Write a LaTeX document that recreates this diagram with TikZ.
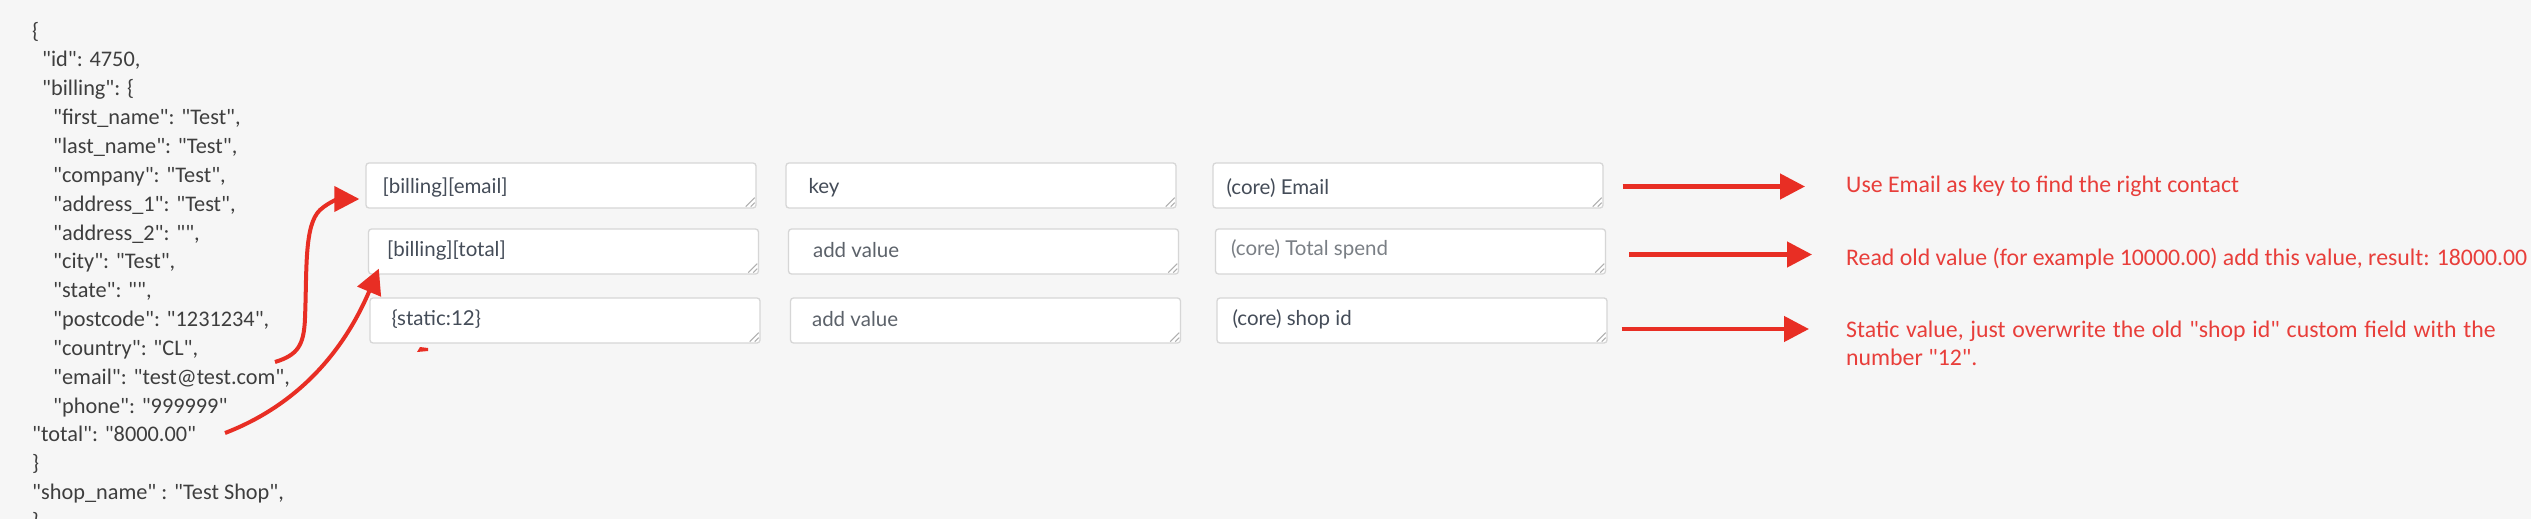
\documentclass[tikz,border=0pt]{standalone}
\usepackage{fontspec}
\setmainfont{Carlito}[Ligatures=TeXOff]
\newfontfamily\fieldfont{Lato}[Ligatures=TeXOff]
\usetikzlibrary{arrows.meta,positioning}

\definecolor{paper}{RGB}{246,246,246}
\definecolor{jsonink}{RGB}{62,62,62}
\definecolor{frame}{RGB}{214,214,214}
\definecolor{fieldink}{RGB}{68,76,88}
\definecolor{valueink}{RGB}{92,98,106}
\definecolor{hintink}{RGB}{122,127,133}
\definecolor{gripgray}{RGB}{175,175,175}
\definecolor{arrowred}{RGB}{232,46,36}
\definecolor{notered}{RGB}{232,62,58}

\tikzset{
  json/.style={anchor=base west, inner sep=0pt, text=jsonink, font=\fontsize{22.3}{28}\selectfont},
  field/.style={draw=frame, fill=white, rounded corners=3pt, line width=1.3pt, minimum width=390pt, minimum height=45pt, inner sep=0pt},
  fieldtext/.style={anchor=base west, inner sep=0pt, text=fieldink, font=\fieldfont\fontsize{20.5}{25}\selectfont},
  note/.style={anchor=base west, inner sep=0pt, text=notered, font=\fontsize{23.8}{28}\selectfont},
  redarrow/.style={draw=arrowred, line width=4.5pt, -{Triangle[length=25pt,width=25pt]}},
  gripline/.style={draw=gripgray, line width=1pt},
}

% resize handle of a text field
\newcommand\gripmark[1]{%
  \draw[gripline] ([shift={(-11,-2)}]#1.south east) -- ([shift={(-2,-11)}]#1.south east);
  \draw[gripline] ([shift={(-6,-2)}]#1.south east) -- ([shift={(-2,-6)}]#1.south east);
}

\begin{document}
\begin{tikzpicture}[x=1pt, y=-1pt]
 \fill[paper] (0,0) rectangle (2531,519);
 \useasboundingbox (0,0) rectangle (2531,519);

 % the order data
 \node[json] (jopen) at (32,38) {\{};
 \node[json] (jid) at (42,66.9) {"id": 4750,};
 \node[json] (jbilling) at (42,95.7) {"billing": \{};
 \node[json] (jfirst) at (53,124.6) {"first\_name": "Test",};
 \node[json] (jlast) at (53,153.4) {"last\_name": "Test",};
 \node[json] (jcompany) at (53,182.3) {"company": "Test",};
 \node[json] (jaddrone) at (53,211.1) {"address\_1": "Test",};
 \node[json] (jaddrtwo) at (53,240) {"address\_2": "",};
 \node[json] (jcity) at (53,268.8) {"city": "Test",};
 \node[json] (jstate) at (53,297.7) {"state": "",};
 \node[json] (jpost) at (53,326.5) {"postcode": "1231234",};
 \node[json] (jcountry) at (53,355.4) {"country": "CL",};
 \node[json] (jemail) at (53,384.2) {"email": "test@test.com",};
 \node[json] (jphone) at (53,413.1) {"phone": "999999"};
 \node[json] (jtotal) at (32,441.9) {"total": "8000.00"};
 \node[json] (jclose) at (32,470.8) {\}};
 \node[json] (jshop) at (32,499.6) {"shop\_name" : "Test Shop",};
 \node[json] (jend) at (32,528.5) {\}};

 % mapping fields
 \node[field] (b11) at (561,185.5) {};
 \node[field] (b12) at (981,185.5) {};
 \node[field] (b13) at (1408,185.5) {};
 \node[field] (b21) at (563.5,251.5) {};
 \node[field] (b22) at (983.5,251.5) {};
 \node[field] (b23) at (1410.5,251.5) {};
 \node[field] (b31) at (565,320.5) {};
 \node[field] (b32) at (985.5,320.5) {};
 \node[field] (b33) at (1412,320.5) {};
 \gripmark{b11} \gripmark{b12} \gripmark{b13}
 \gripmark{b21} \gripmark{b22} \gripmark{b23}
 \gripmark{b31} \gripmark{b32} \gripmark{b33}

 \node[fieldtext] (t11) at ([shift={(17,8)}]b11.west) {[billing][email]};
 \node[fieldtext] (t12) at ([shift={(23,8)}]b12.west) {key};
 \node[fieldtext] (t13) at ([shift={(14,8.5)}]b13.west) {(core) Email};
 \node[fieldtext] (t21) at ([shift={(19,5)}]b21.west) {[billing][total]};
 \node[fieldtext, text=valueink] (t22) at ([shift={(25,5.5)}]b22.west) {add value};
 \node[fieldtext, text=hintink] (t23) at ([shift={(16,4)}]b23.west) {(core) Total spend};
 \node[fieldtext] (t31) at ([shift={(22,4.5)}]b31.west) {\{static:12\}};
 \node[fieldtext, text=valueink] (t32) at ([shift={(22,6)}]b32.west) {add value};
 \node[fieldtext] (t33) at ([shift={(16,4.5)}]b33.west) {(core) shop id};

 % explanations
 \node[note] (note1) at (1846,192) {Use Email as key to find the right contact};
 \node[note] (note2) at (1846,265) {Read old value (for example 10000.00) add this value, result: 18000.00};
 \node[note] (note3) at (1846,337) {\spaceskip=6.8pt Static value, just overwrite the old "shop id" custom field with the};
 \node[note] (note3b) at ([shift={(0,28)}]note3.base west) {number "12".};

 \draw[redarrow, shorten <=19pt, shorten >=41pt] ([yshift=-1pt]b13.east) -- ([yshift=-1pt]b13.east -| note1.west);
 \draw[redarrow, shorten <=23pt, shorten >=34pt] ([shift={(0,3)}]b23.east) -- ([shift={(0,3)}]b23.east -| note2.west);
 \draw[redarrow, shorten <=14pt, shorten >=37pt] ([shift={(0,8.5)}]b33.east) -- ([shift={(0,8.5)}]b33.east -| note3.west);

 % where the values come from
 \coordinate (emailtail) at (275,362);
 \coordinate (totaltail) at (225,433);
 \draw[redarrow, line width=4pt] (emailtail) .. controls (298,355) and (304,345) .. (305,318)
   .. controls (307,270) and (304,225) .. (320,210)
   .. controls (330,201) and (340,199) .. ([shift={(-6,13.5)}]b11.west);
 \draw[redarrow, line width=4pt] (totaltail) .. controls (290,408) and (340,360) .. ([shift={(11,-6)}]b21.south west);
 \fill[arrowred] (417,352) -- (420,347) -- (428,348) -- (428,351) -- cycle;
\end{tikzpicture}
\end{document}
